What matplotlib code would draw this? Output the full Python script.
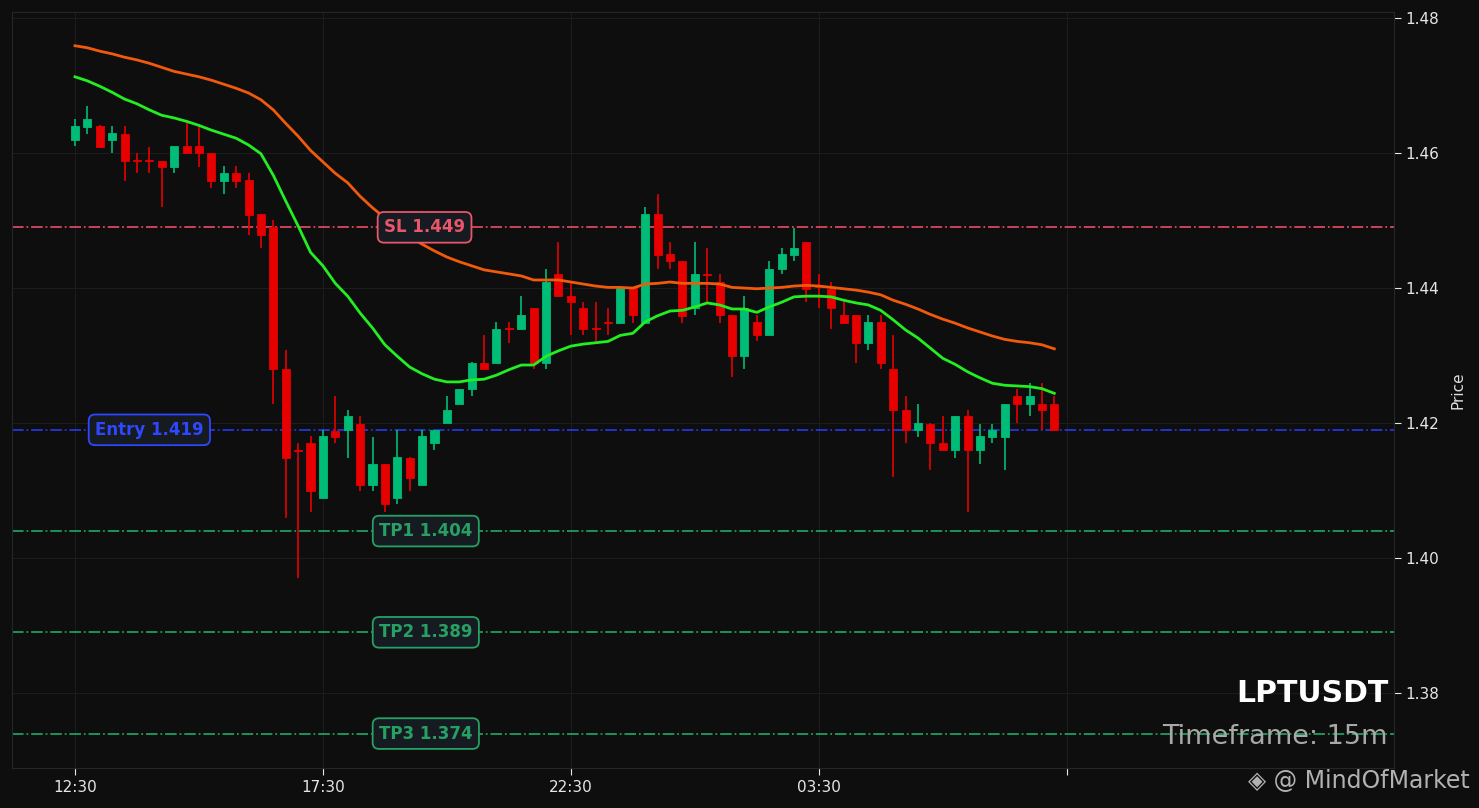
import matplotlib
matplotlib.use("Agg")
import matplotlib.pyplot as plt
from matplotlib.patches import Rectangle

# 15m candles for LPTUSDT
opens = [1.4620, 1.4639, 1.4640, 1.4620, 1.4629, 1.4590, 1.4590, 1.4589, 1.4580, 1.4610,
         1.4610, 1.4600, 1.4559, 1.4570, 1.4560, 1.4510, 1.4491, 1.4280, 1.4160, 1.4170,
         1.4089, 1.4189, 1.4190, 1.4199, 1.4109, 1.4140, 1.4089, 1.4149, 1.4109, 1.4170,
         1.4200, 1.4229, 1.4250, 1.4289, 1.4289, 1.4340, 1.4340, 1.4370, 1.4289, 1.4421,
         1.4389, 1.4370, 1.4340, 1.4350, 1.4349, 1.4401, 1.4349, 1.4510, 1.4450, 1.4440,
         1.4370, 1.4421, 1.4409, 1.4360, 1.4299, 1.4350, 1.4330, 1.4429, 1.4449, 1.4469,
         1.4403, 1.4399, 1.4360, 1.4360, 1.4319, 1.4350, 1.4280, 1.4220, 1.4190, 1.4199,
         1.4170, 1.4160, 1.4210, 1.4160, 1.4180, 1.4180, 1.4240, 1.4229, 1.4229, 1.4229]
highs = [1.4650, 1.4670, 1.4641, 1.4640, 1.4640, 1.4600, 1.4609, 1.4589, 1.4610, 1.4645,
         1.4639, 1.4600, 1.4581, 1.4581, 1.4570, 1.4510, 1.4501, 1.4309, 1.4170, 1.4181,
         1.4190, 1.4240, 1.4220, 1.4210, 1.4180, 1.4140, 1.4190, 1.4150, 1.4190, 1.4190,
         1.4240, 1.4250, 1.4290, 1.4330, 1.4350, 1.4350, 1.4389, 1.4370, 1.4429, 1.4469,
         1.4409, 1.4380, 1.4380, 1.4370, 1.4401, 1.4401, 1.4520, 1.4540, 1.4469, 1.4440,
         1.4469, 1.4460, 1.4421, 1.4360, 1.4389, 1.4360, 1.4440, 1.4460, 1.4489, 1.4469,
         1.4421, 1.4409, 1.4380, 1.4360, 1.4360, 1.4360, 1.4330, 1.4240, 1.4229, 1.4200,
         1.4210, 1.4210, 1.4220, 1.4199, 1.4199, 1.4229, 1.4250, 1.4260, 1.4260, 1.4240]
lows = [1.4610, 1.4629, 1.4608, 1.4600, 1.4559, 1.4570, 1.4570, 1.4520, 1.4570, 1.4600,
        1.4580, 1.4549, 1.4540, 1.4549, 1.4479, 1.4460, 1.4229, 1.4060, 1.3970, 1.4069,
        1.4089, 1.4170, 1.4149, 1.4100, 1.4100, 1.4069, 1.4080, 1.4100, 1.4109, 1.4160,
        1.4200, 1.4229, 1.4240, 1.4280, 1.4289, 1.4319, 1.4340, 1.4280, 1.4280, 1.4389,
        1.4330, 1.4330, 1.4321, 1.4330, 1.4349, 1.4349, 1.4349, 1.4429, 1.4429, 1.4349,
        1.4360, 1.4380, 1.4349, 1.4269, 1.4280, 1.4321, 1.4330, 1.4421, 1.4440, 1.4380,
        1.4370, 1.4340, 1.4349, 1.4289, 1.4309, 1.4280, 1.4120, 1.4170, 1.4180, 1.4130,
        1.4160, 1.4149, 1.4069, 1.4140, 1.4170, 1.4130, 1.4200, 1.4210, 1.4190, 1.4190]
closes = [1.4640, 1.4650, 1.4609, 1.4630, 1.4589, 1.4589, 1.4589, 1.4580, 1.4610, 1.4600,
          1.4600, 1.4559, 1.4570, 1.4559, 1.4509, 1.4479, 1.4280, 1.4149, 1.4159, 1.4100,
          1.4181, 1.4180, 1.4210, 1.4109, 1.4140, 1.4080, 1.4150, 1.4119, 1.4181, 1.4190,
          1.4220, 1.4250, 1.4289, 1.4280, 1.4340, 1.4339, 1.4360, 1.4289, 1.4409, 1.4389,
          1.4380, 1.4340, 1.4339, 1.4349, 1.4401, 1.4360, 1.4510, 1.4449, 1.4440, 1.4359,
          1.4421, 1.4420, 1.4360, 1.4299, 1.4370, 1.4330, 1.4429, 1.4450, 1.4460, 1.4399,
          1.4402, 1.4370, 1.4349, 1.4319, 1.4350, 1.4289, 1.4220, 1.4190, 1.4200, 1.4170,
          1.4160, 1.4210, 1.4160, 1.4181, 1.4190, 1.4229, 1.4229, 1.4240, 1.4220, 1.4190]

ema_fast = [1.4713, 1.4707, 1.4699, 1.4690, 1.4680, 1.4673, 1.4664, 1.4656, 1.4652, 1.4647,
            1.4641, 1.4634, 1.4628, 1.4622, 1.4612, 1.4599, 1.4567, 1.4529, 1.4492, 1.4453,
            1.4433, 1.4407, 1.4388, 1.4363, 1.4341, 1.4316, 1.4299, 1.4283, 1.4273, 1.4265,
            1.4261, 1.4261, 1.4264, 1.4265, 1.4271, 1.4279, 1.4286, 1.4286, 1.4299, 1.4307,
            1.4314, 1.4317, 1.4319, 1.4321, 1.4330, 1.4333, 1.4350, 1.4359, 1.4366, 1.4367,
            1.4372, 1.4378, 1.4375, 1.4369, 1.4369, 1.4364, 1.4372, 1.4379, 1.4387, 1.4388,
            1.4388, 1.4387, 1.4382, 1.4378, 1.4375, 1.4367, 1.4353, 1.4338, 1.4326, 1.4311,
            1.4296, 1.4287, 1.4276, 1.4267, 1.4259, 1.4256, 1.4255, 1.4254, 1.4251, 1.4244]
ema_slow = [1.4759, 1.4756, 1.4751, 1.4747, 1.4742, 1.4738, 1.4733, 1.4727, 1.4721, 1.4717,
            1.4713, 1.4708, 1.4702, 1.4696, 1.4689, 1.4679, 1.4664, 1.4644, 1.4625, 1.4604,
            1.4587, 1.4570, 1.4556, 1.4536, 1.4519, 1.4504, 1.4486, 1.4476, 1.4465, 1.4455,
            1.4446, 1.4439, 1.4433, 1.4427, 1.4424, 1.4421, 1.4418, 1.4412, 1.4412, 1.4412,
            1.4409, 1.4406, 1.4403, 1.4401, 1.4401, 1.4400, 1.4406, 1.4407, 1.4409, 1.4407,
            1.4407, 1.4407, 1.4406, 1.4401, 1.4400, 1.4399, 1.4400, 1.4401, 1.4403, 1.4404,
            1.4403, 1.4401, 1.4399, 1.4397, 1.4394, 1.4390, 1.4382, 1.4376, 1.4369, 1.4361,
            1.4354, 1.4348, 1.4341, 1.4335, 1.4329, 1.4324, 1.4321, 1.4319, 1.4316, 1.4310]

tick_pos = [0, 20, 40, 60, 80]
tick_labels = ["12:30", "17:30", "22:30", "03:30", ""]

levels = {
    "SL": 1.449,
    "Entry": 1.419,
    "TP1": 1.404,
    "TP2": 1.389,
    "TP3": 1.374,
}

BG = "#0e0e0e"
UP = "#00bc76"
DOWN = "#e60000"
level_style = {
    "SL": ("#d9475c", "#e8566a", 28.2),
    "Entry": ("#2336e0", "#2f47ff", 6.0),
    "TP1": ("#1e9e5e", "#27a064", 28.3),
    "TP2": ("#1e9e5e", "#27a064", 28.3),
    "TP3": ("#1e9e5e", "#27a064", 28.3),
}

fig = plt.figure(figsize=(14.79, 8.08), dpi=100, facecolor=BG)
ax = fig.add_axes([12 / 1479, 40 / 808, 1382 / 1479, 756 / 808])
ax.set_facecolor(BG)

# candles
body_w = 0.65
for i in range(len(opens)):
    o, h, l, c = opens[i], highs[i], lows[i], closes[i]
    col = UP if c >= o else DOWN
    ax.vlines(i, l, h, color=col, linewidth=1.2, zorder=3)
    bottom = min(o, c)
    height = max(abs(c - o), 0.00012)
    ax.add_patch(Rectangle((i - body_w / 2, bottom), body_w, height,
                           facecolor=col, edgecolor=col, linewidth=0.6, zorder=4))

x = list(range(len(ema_fast)))
ax.plot(x, ema_slow, color="#f05a0a", linewidth=2, zorder=5)
ax.plot(x, ema_fast, color="#22ee22", linewidth=2, zorder=5)

# trade levels
for name, price in levels.items():
    line_col, txt_col, lx = level_style[name]
    ax.axhline(price, color=line_col, linestyle="-.", linewidth=1.3, zorder=2)
    ax.text(lx, price, f"{name} {price:.3f}", color=txt_col, fontsize=12,
            fontweight="bold", ha="center", va="center", zorder=6,
            bbox=dict(boxstyle="round,pad=0.38", facecolor="#161b22",
                      edgecolor=txt_col, linewidth=1.3))

ax.set_xlim(-5.08, 106.4)
ax.set_ylim(1.3689, 1.4809)
ax.set_xticks(tick_pos)
ax.set_xticklabels(tick_labels)
ax.set_yticks([1.38, 1.40, 1.42, 1.44, 1.46, 1.48])
ax.yaxis.tick_right()
ax.yaxis.set_label_position("right")
ax.set_ylabel("Price", color="#dddddd", fontsize=11, labelpad=8)
ax.tick_params(colors="#e6e6e6", labelsize=11, length=5)
ax.tick_params(axis="x", pad=4)
ax.grid(True, color="#1c1c1c", linewidth=0.8)
for sp in ax.spines.values():
    sp.set_color("#22272e")

ax.text(0.9957, 0.098, "LPTUSDT", transform=ax.transAxes, ha="right", va="center",
        color="white", fontsize=21.5, fontweight="bold", zorder=7)
ax.text(0.9957, 0.041, "Timeframe: 15m", transform=ax.transAxes, ha="right", va="center",
        color="#a8a8a8", fontsize=19.5, zorder=7)

# watermark
fig.text(1470 / 1479, 1 - 781 / 808, "◈ @ MindOfMarket", color="#cfcfcf", alpha=0.85,
         fontsize=17, ha="right", va="center")

fig.savefig("out.png", dpi=100, facecolor=BG)
